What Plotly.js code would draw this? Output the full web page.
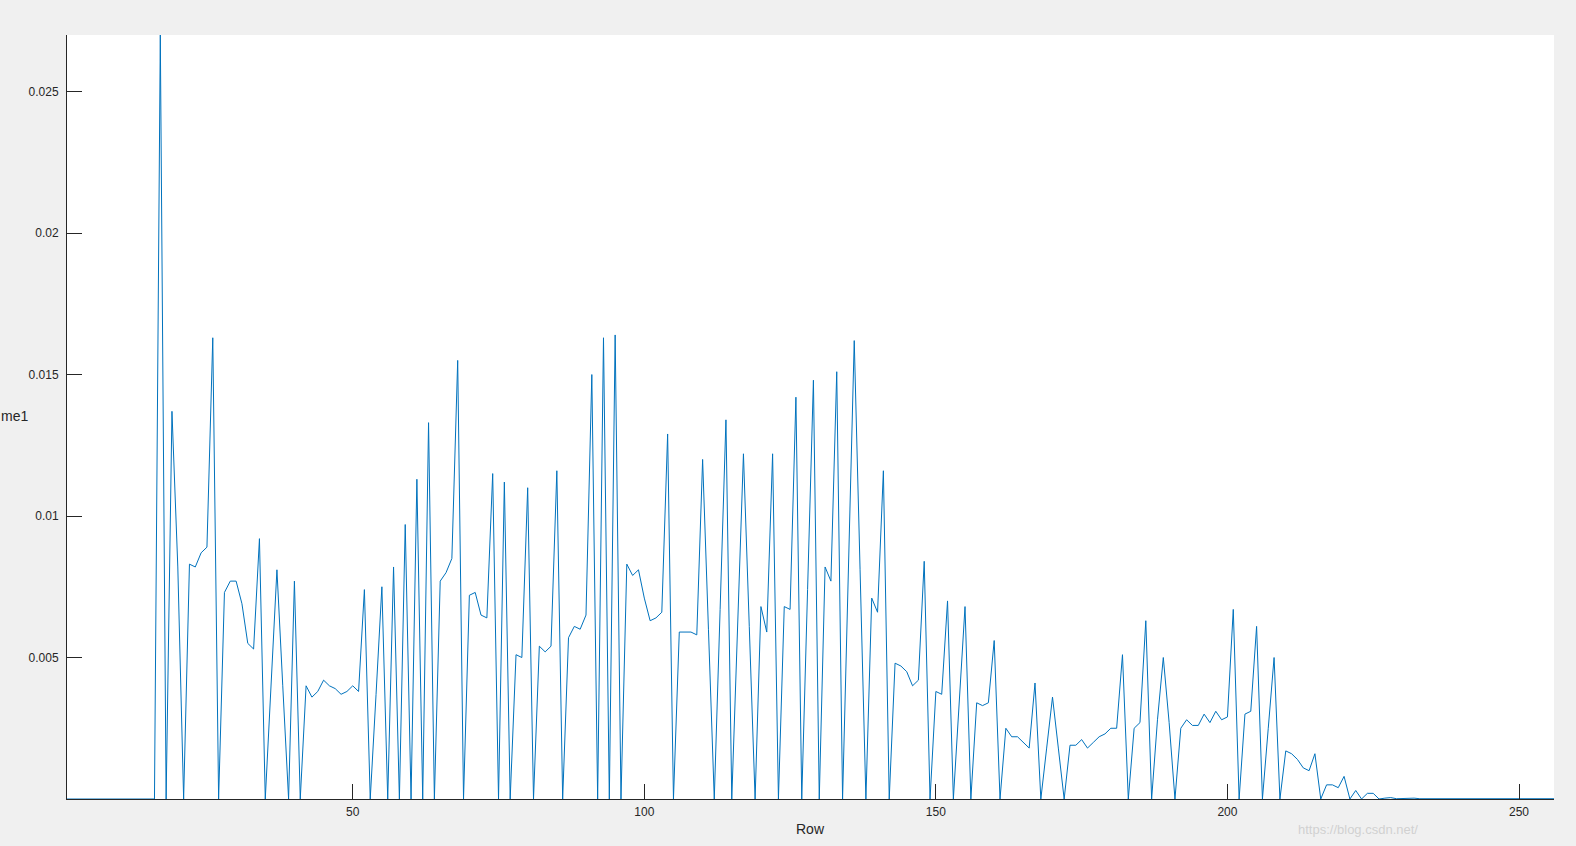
<!DOCTYPE html>
<html>
<head>
<meta charset="utf-8">
<script src="https://cdn.plot.ly/plotly-3.0.1.min.js"></script>
<style>
html,body{margin:0;padding:0;background:#f0f0f0;}
#chart{width:1576px;height:846px;}
</style>
</head>
<body>
<div id="chart"></div>
<script>
// me1 values by row (rows 1..256)
const me1_rows001_050 = [
  0,0,0,0,0,0,0,0,0,0,
  0,0,0,0,0,0,0.0270,0,0.0137,0.0082,
  0,0.0083,0.0082,0.0087,0.0089,0.0163,0,0.0073,0.0077,0.0077,
  0.0069,0.0055,0.0053,0.0092,0,0.0040,0.0081,0.0040,0,0.0077,
  0,0.0040,0.0036,0.0038,0.0042,0.0040,0.0039,0.0037,0.0038,0.0040
];
const me1_rows051_100 = [
  0.0038,0.0074,0,0.0037,0.0075,0,0.0082,0,0.0097,0,
  0.0113,0,0.0133,0,0.0077,0.0080,0.0085,0.0155,0,0.0072,
  0.0073,0.0065,0.0064,0.0115,0,0.0112,0,0.0051,0.0050,0.0110,
  0,0.0054,0.0052,0.0054,0.0116,0,0.0057,0.0061,0.0060,0.0065,
  0.0150,0,0.0163,0,0.0164,0,0.0083,0.0079,0.0081,0.0071
];
const me1_rows101_150 = [
  0.0063,0.0064,0.0066,0.0129,0,0.0059,0.0059,0.0059,0.0058,0.0120,
  0.0060,0,0.0067,0.0134,0,0.0061,0.0122,0.0061,0,0.0068,
  0.0059,0.0122,0,0.0068,0.0067,0.0142,0,0.0074,0.0148,0,
  0.0082,0.0077,0.0151,0,0.0081,0.0162,0.0081,0,0.0071,0.0066,
  0.0116,0,0.0048,0.0047,0.0045,0.0040,0.0042,0.0084,0,0.0038
];
const me1_rows151_200 = [
  0.0037,0.0070,0,0.0034,0.0068,0,0.0034,0.0033,0.0034,0.0056,
  0,0.0025,0.0022,0.0022,0.0020,0.0018,0.0041,0,0.0018,0.0036,
  0.0018,0,0.0019,0.0019,0.0021,0.0018,0.0020,0.0022,0.0023,0.0025,
  0.0025,0.0051,0,0.0025,0.0027,0.0063,0,0.0028,0.0050,0.0027,
  0,0.0025,0.0028,0.0026,0.0026,0.0030,0.0027,0.0031,0.0028,0.0029
];
const me1_rows201_256 = [
  0.0067,0,0.0030,0.0031,0.0061,0,0.0025,0.0050,0,0.0017,
  0.0016,0.0014,0.0011,0.0010,0.0016,0,0.0005,0.0005,0.0004,0.0008,
  0,0.0003,0,0.0002,0.0002,0,0.00003,0.00005,0.00001,0.00002,
  0.00001,0.00003,0.00001,0.00001,0.00001,0.00001,0.00001,0.00001,0.00001,0.00001,
  0.00001,0.00001,0.00001,0.00001,0.00001,0.00001,0.00001,0.00001,0.00001,0.00001,
  0.00001,0.00001,0.00001,0.00001,0.00001,0.00001
];
const me1 = [].concat(me1_rows001_050, me1_rows051_100, me1_rows101_150, me1_rows151_200, me1_rows201_256);
const rows = me1.map((_, i) => i + 1);

const xTickVals = [50, 100, 150, 200, 250];
const xTickText = ['50', '100', '150', '200', '250'];
const yTickVals = [0.005, 0.01, 0.015, 0.02, 0.025];
const yTickText = ['0.005', '0.01', '0.015', '0.02', '0.025'];

const xTitle = 'Row';
const yTitle = 'me1';
const watermark = 'https://blog.csdn.net/';

const axisFont = {family: 'Liberation Sans, Arial, sans-serif', size: 12, color: '#262626'};
const wmFont = {family: 'Liberation Sans, Arial, sans-serif', size: 13, color: 'rgba(205,205,205,0.9)'};

const trace = {
  x: rows, y: me1, type: 'scatter', mode: 'lines',
  line: {color: '#0072BD', width: 1},
  hoverinfo: 'x+y'
};

const layout = {
  width: 1576, height: 846,
  paper_bgcolor: '#f0f0f0', plot_bgcolor: '#ffffff',
  margin: {l: 66.5, r: 22.3, t: 35.2, b: 47.1, pad: 0},
  showlegend: false,
  xaxis: {
    range: [1, 256], tickvals: xTickVals, ticktext: xTickText,
    ticks: 'inside', ticklen: 15, tickwidth: 1, tickcolor: '#262626',
    showline: true, linecolor: '#262626', linewidth: 1, mirror: false,
    showgrid: false, zeroline: false, tickfont: axisFont, ticklabelstandoff: 2
  },
  yaxis: {
    range: [0, 0.0270], tickvals: yTickVals, ticktext: yTickText,
    ticks: 'inside', ticklen: 15, tickwidth: 1, tickcolor: '#262626',
    showline: true, linecolor: '#262626', linewidth: 1, mirror: false,
    showgrid: false, zeroline: false, tickfont: axisFont, ticklabelstandoff: 5
  },
  annotations: [
    {text: xTitle, xref: 'paper', yref: 'paper', x: 0.5, y: -0.0394,
     xanchor: 'center', yanchor: 'middle', showarrow: false,
     font: {family: 'Liberation Sans, Arial, sans-serif', size: 14, color: '#262626'}},
    {text: yTitle, xref: 'paper', yref: 'paper', x: -0.0252, y: 0.501,
     xanchor: 'right', yanchor: 'middle', showarrow: false,
     font: {family: 'Liberation Sans, Arial, sans-serif', size: 14, color: '#262626'}},
    {text: watermark, xref: 'paper', yref: 'paper', x: 0.8267, y: -0.0394,
     xanchor: 'left', yanchor: 'middle', showarrow: false, font: wmFont}
  ]
};

Plotly.newPlot('chart', [trace], layout, {displayModeBar: false, staticPlot: true});
</script>
</body>
</html>
